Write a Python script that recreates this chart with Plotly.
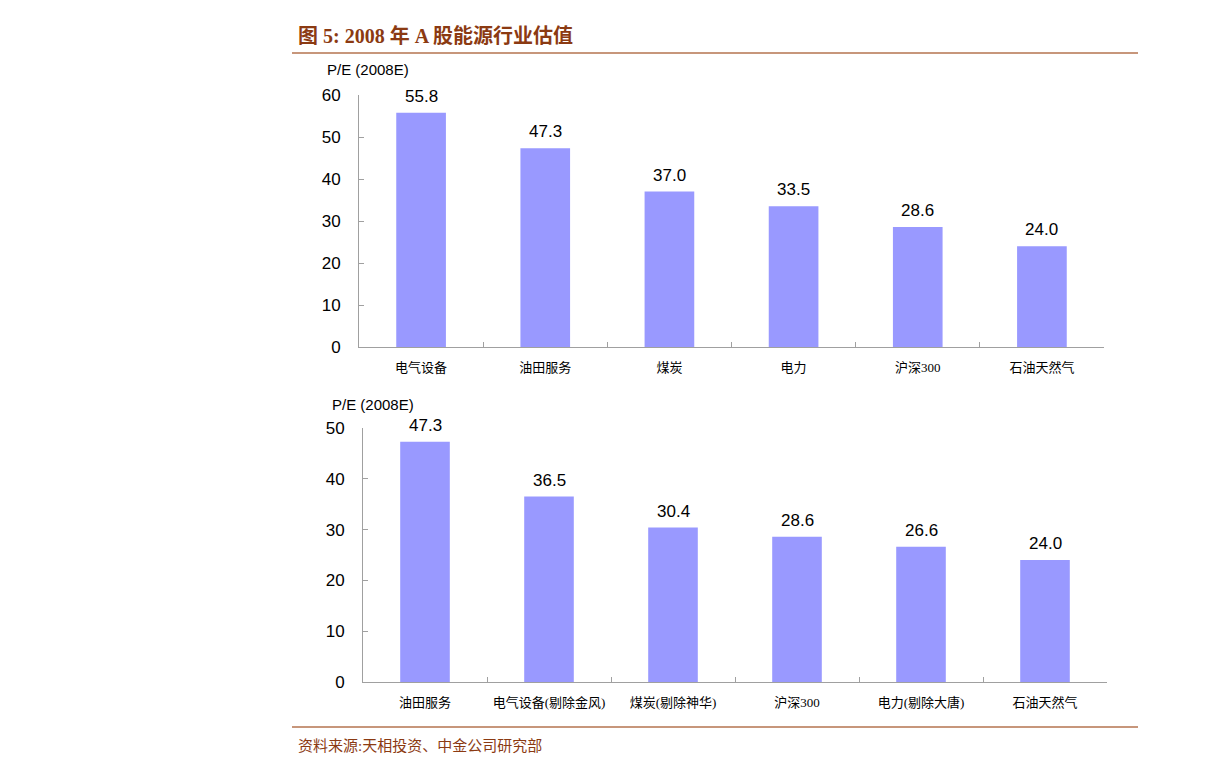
import plotly.graph_objects as go

cats1 = ["电气设备", "油田服务", "煤炭", "电力", "沪深300", "石油天然气"]
vals1 = [55.8, 47.3, 37.0, 33.5, 28.6, 24.0]
cats2 = ["油田服务", "电气设备(剔除金风)", "煤炭(剔除神华)", "沪深300", "电力(剔除大唐)", "石油天然气"]
vals2 = [47.3, 36.5, 30.4, 28.6, 26.6, 24.0]
yticks1 = [0, 10, 20, 30, 40, 50, 60]
yticks2 = [0, 10, 20, 30, 40, 50]

W, H = 1224, 774
def px(x): return x / W
def py(y): return 1 - y / H

bar_color = "#9999FF"
brown = "#8B3A12"
line_brown = "#B5734F"
cjk_serif = "Liberation Serif, Noto Sans CJK SC"
num_font = "Liberation Sans, Arial"

fig = go.Figure()
fig.add_trace(go.Bar(x=cats1, y=vals1, marker_color=bar_color, marker_line_width=0,
                     width=0.4, xaxis="x", yaxis="y"))
fig.add_trace(go.Bar(x=cats2, y=vals2, marker_color=bar_color, marker_line_width=0,
                     width=0.4, xaxis="x2", yaxis="y2"))

xcommon = dict(showline=True, linecolor="#A0A0A0", linewidth=1, ticks="inside", ticklen=5,
               tickcolor="#A0A0A0", tickson="boundaries", showgrid=False, automargin=False,
               tickfont=dict(family=cjk_serif, size=13, color="black"), ticklabelstandoff=8)
ycommon = dict(showline=True, linecolor="#A0A0A0", linewidth=1, ticks="inside", ticklen=5,
               tickcolor="#A0A0A0", showgrid=False, zeroline=False, automargin=False,
               tickfont=dict(family=num_font, size=17, color="black"), ticklabelstandoff=14)

annotations = [
    dict(text="<b>图 5: 2008 年 A 股能源行业估值</b>", x=px(296), y=py(36), xref="paper", yref="paper",
         xanchor="left", yanchor="middle", showarrow=False,
         font=dict(family=cjk_serif, size=20, color=brown)),
    dict(text="P/E (2008E)", x=px(325), y=py(70), xref="paper", yref="paper",
         xanchor="left", yanchor="middle", showarrow=False,
         font=dict(family=num_font, size=15, color="black")),
    dict(text="P/E (2008E)", x=px(330), y=py(404), xref="paper", yref="paper",
         xanchor="left", yanchor="middle", showarrow=False,
         font=dict(family=num_font, size=15, color="black")),
    dict(text="资料来源:天相投资、中金公司研究部", x=px(296), y=py(746), xref="paper", yref="paper",
         xanchor="left", yanchor="middle", showarrow=False,
         font=dict(family=cjk_serif, size=15, color=brown)),
]
for cats, vals, xr, yr in [(cats1, vals1, "x", "y"), (cats2, vals2, "x2", "y2")]:
    for c, v in zip(cats, vals):
        annotations.append(dict(text=f"{v:.1f}", x=c, y=v, xref=xr, yref=yr,
                                xanchor="center", yanchor="bottom", yshift=5, showarrow=False,
                                font=dict(family=num_font, size=17, color="black")))

fig.update_layout(
    width=W, height=H, margin=dict(l=0, r=0, t=0, b=0, autoexpand=False),
    paper_bgcolor="white", plot_bgcolor="white", showlegend=False, bargap=0.6,
    xaxis=dict(domain=[px(359), px(1104)], anchor="y", **xcommon),
    yaxis=dict(domain=[py(347), py(95)], range=[0, 60], tickvals=yticks1, anchor="x", **ycommon),
    xaxis2=dict(domain=[px(363), px(1107)], anchor="y2", **xcommon),
    yaxis2=dict(domain=[py(682), py(428)], range=[0, 50], tickvals=yticks2, anchor="x2", **ycommon),
    annotations=annotations,
    shapes=[
        dict(type="line", xref="paper", yref="paper", x0=px(292), x1=px(1138), y0=py(53), y1=py(53),
             line=dict(color=line_brown, width=1.5)),
        dict(type="line", xref="paper", yref="paper", x0=px(292), x1=px(1138), y0=py(727), y1=py(727),
             line=dict(color=line_brown, width=1.5)),
    ],
)

fig.write_html("out.html")
